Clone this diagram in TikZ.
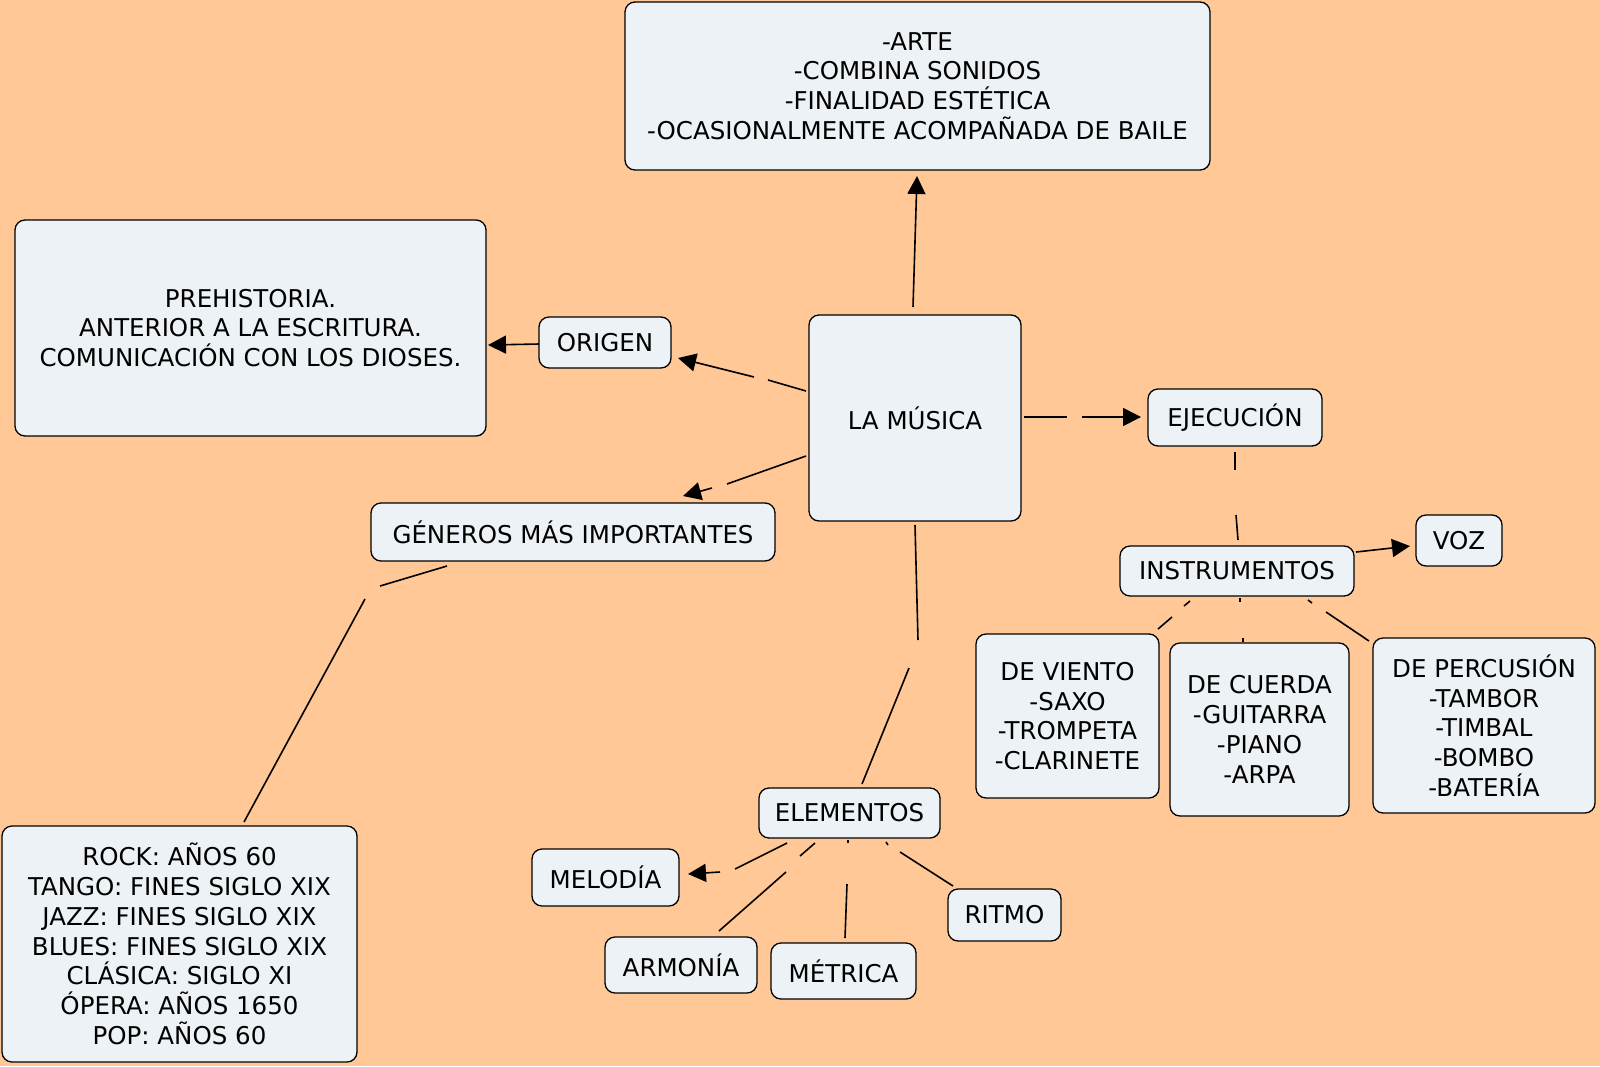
\documentclass[tikz,border=0pt]{standalone}
\usepackage{fontspec}
\setmainfont{DejaVu Sans}
\usetikzlibrary{arrows.meta}
\definecolor{bgc}{HTML}{FFC896}
\definecolor{boxc}{HTML}{ECF2F5}
\tikzset{
 box/.style={draw=black,line width=1.3pt,fill=boxc,rounded corners=10pt,align=center,font=\fontsize{24.5}{29.8}\selectfont},
 ln/.style={line width=1.6pt},
 arr/.style={ln,-{Triangle[length=18pt,width=18pt]}}
}
\begin{document}
\begin{tikzpicture}[x=1pt,y=-1pt]
\fill[bgc] (0,0) rectangle (1600,1066);
\useasboundingbox (0,0) rectangle (1600,1066);
\def\bx#1#2#3#4#5#6{\draw[box] (#2,#3) rectangle (#4,#5); \node[box,draw=none,fill=none] (#1) at ({(#2+#4)/2},{(#3+#5)/2}) {#6};}
\bx{top}{625}{2}{1210}{170}{-ARTE\\-COMBINA SONIDOS\\-FINALIDAD ESTÉTICA\\-OCASIONALMENTE ACOMPAÑADA DE BAILE}
\bx{pre}{15}{220}{486}{436}{PREHISTORIA.\\ANTERIOR A LA ESCRITURA.\\COMUNICACIÓN CON LOS DIOSES.}
\bx{ori}{539}{317}{671}{368}{ORIGEN}
\bx{mus}{809}{315}{1021}{521}{LA MÚSICA}
\bx{eje}{1148}{389}{1322}{446}{EJECUCIÓN}
\bx{gen}{371}{503}{775}{561}{GÉNEROS MÁS IMPORTANTES}
\bx{ins}{1120}{546}{1354}{596}{INSTRUMENTOS}
\bx{voz}{1416}{515}{1502}{566}{VOZ}
\bx{vie}{976}{634}{1159}{798}{DE VIENTO\\-SAXO\\-TROMPETA\\-CLARINETE}
\bx{cue}{1170}{643}{1349}{816}{DE CUERDA\\-GUITARRA\\-PIANO\\-ARPA}
\bx{per}{1373}{638}{1595}{813}{DE PERCUSIÓN\\-TAMBOR\\-TIMBAL\\-BOMBO\\-BATERÍA}
\bx{ele}{759}{788}{940}{838}{ELEMENTOS}
\bx{mel}{532}{849}{679}{906}{MELODÍA}
\bx{arm}{605}{937}{757}{993}{ARMONÍA}
\bx{met}{771}{943}{916}{999}{MÉTRICA}
\bx{rit}{948}{889}{1061}{941}{RITMO}
\bx{lis}{2}{826}{357}{1062}{ROCK: AÑOS 60\\TANGO: FINES SIGLO XIX\\JAZZ: FINES SIGLO XIX\\BLUES: FINES SIGLO XIX\\CLÁSICA: SIGLO XI\\ÓPERA: AÑOS 1650\\POP: AÑOS 60}
% connectors
\draw[arr] (913,307) -- (917,176);
\draw[ln] (806,391) -- (768,380); \draw[arr] (754,377) -- (678,358);
\draw[arr] (539,344) -- (488,345);
\draw[ln] (806,456) -- (727,484); \draw[arr] (712,488) -- (683,496);
\draw[ln] (447,566) -- (380,586); \draw[ln] (365,599) -- (244,822);
\draw[ln] (1024,417) -- (1067,417); \draw[arr] (1082,417) -- (1141,417);
\draw[ln] (1235,452) -- (1235,470); \draw[ln] (1236,515) -- (1238,540);
\draw[arr] (1356,552) -- (1410,546);
\draw[ln] (1190,601) -- (1184,606); \draw[ln] (1172,617) -- (1158,629);
\draw[ln] (1240,598) -- (1240,602); \draw[ln] (1243,638) -- (1243,642);
\draw[ln] (1308,600) -- (1312,603); \draw[ln] (1326,612) -- (1369,641);
\draw[ln] (915,525) -- (918,640); \draw[ln] (909,668) -- (862,784);
\draw[ln] (787,843) -- (735,869); \draw[arr] (720,872) -- (688,874);
\draw[ln] (815,843) -- (800,856); \draw[ln] (786,872) -- (719,931);
\draw[ln] (848,840) -- (848,843); \draw[ln] (847,884) -- (845,938);
\draw[ln] (886,842) -- (888,845); \draw[ln] (900,852) -- (953,886);
\end{tikzpicture}
\end{document}
